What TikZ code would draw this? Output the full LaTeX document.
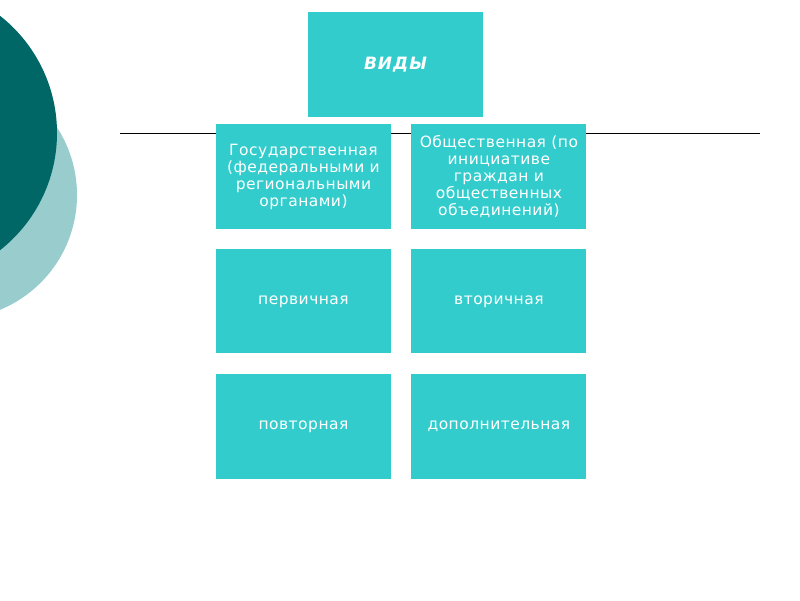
\documentclass[tikz,border=0pt]{standalone}
\usepackage{fontspec}
\setmainfont{DejaVu Sans}
\newfontfamily\boxfont[LetterSpace=3]{DejaVu Sans}
\newfontfamily\headfont[LetterSpace=6]{DejaVu Sans}
\usetikzlibrary{positioning}

\definecolor{boxteal}{HTML}{33CCCC}
\definecolor{darkteal}{HTML}{006666}
\definecolor{paleteal}{HTML}{99CCCC}

\begin{document}
\begin{tikzpicture}[
  x=1pt, y=-1pt,
  node distance=20pt and 20pt,
  box/.style={fill=boxteal, text=white, align=center, minimum width=175pt, minimum height=105pt, inner sep=2pt, font=\boxfont\fontsize{15.5}{17}\selectfont},
  line/.style={black, line width=0.8pt},
]
\useasboundingbox (0,0) rectangle (800,600);

% === decorative circles ===
\begin{scope}
  \clip (0,0) rectangle (800,600);
  \fill[paleteal] (-47,195) circle (124);
  \fill[darkteal] (-92,133) circle (149);
\end{scope}

% === rule behind the boxes ===
\coordinate (ruleL) at (120,133);
\coordinate (ruleR) at (760,133);
\draw[line] (ruleL) -- (ruleR);

% === top ===
\node[box, font=\headfont\fontsize{17}{19}\selectfont\bfseries\itshape] (vidy) at (395.5,64.5) {ВИДЫ};

% === row 1 ===
\node[box] (gos) at (303.5,176.5) {Государственная\\(федеральными и\\региональными\\органами)};
\node[box, right=of gos] (obsch) {Общественная (по\\инициативе\\граждан и\\общественных\\объединений)};

% === row 2 ===
\node[box, below=of gos, minimum height=104pt] (perv) {первичная};
\node[box, right=of perv, minimum height=104pt] (vtor) {вторичная};

% === row 3 ===
\node[box, below=of perv] (povt) {повторная};
\node[box, right=of povt] (dop) {дополнительная};

\end{tikzpicture}
\end{document}
